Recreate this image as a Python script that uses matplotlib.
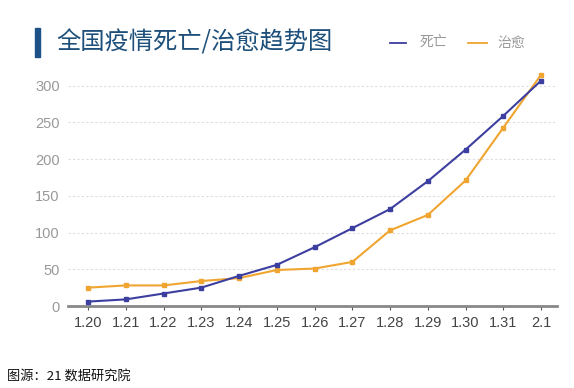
import matplotlib.pyplot as plt
from matplotlib.lines import Line2D

plt.rcParams['font.family'] = ['Liberation Sans', 'Noto Sans CJK SC', 'DejaVu Sans']

dates = ['1.20', '1.21', '1.22', '1.23', '1.24', '1.25', '1.26',
         '1.27', '1.28', '1.29', '1.30', '1.31', '2.1']
deaths = [6, 9, 17, 25, 41, 56, 80, 106, 132, 170, 213, 259, 307]
cured = [25, 28, 28, 34, 38, 49, 51, 60, 103, 124, 171, 243, 315]

blue = '#3d3fa0'
orange = '#f0a530'
W, H = 574, 388

fig = plt.figure(figsize=(W / 100, H / 100), dpi=100)
ax = fig.add_axes([68 / W, 1 - 306 / H, (557 - 68) / W, (306 - 71) / H])

x = list(range(len(dates)))
ax.plot(x, cured, color=orange, lw=1.5, marker='s', ms=2.2, clip_on=False, zorder=3)
ax.plot(x, deaths, color=blue, lw=1.5, marker='s', ms=2.2, clip_on=False, zorder=4)

ax.set_xlim(-0.53, 12.42)
ax.set_ylim(0, 320)
ax.set_yticks([0, 50, 100, 150, 200, 250, 300])
ax.set_xticks(x)
ax.set_xticklabels(dates)
for y in [50, 100, 150, 200, 250, 300]:
    ax.axhline(y, color='#dddddd', lw=0.8, ls=(0, (2, 2)), zorder=1)

for s in ['top', 'right', 'left']:
    ax.spines[s].set_visible(False)
ax.spines['bottom'].set_color('#888888')
ax.spines['bottom'].set_linewidth(2)
ax.tick_params(axis='y', length=0, labelsize=10.5, labelcolor='#999999', pad=6)
ax.tick_params(axis='x', length=3, width=0.8, color='#555555', labelsize=10.5,
               labelcolor='#444444', pad=4)

# title bar and title
fig.patches.append(plt.Rectangle((35 / W, 1 - 57 / H), 4.5 / W, 29 / H,
                                 transform=fig.transFigure, color='#1d5289'))
fig.text(56 / W, 1 - 43 / H, '全国疫情死亡/治愈趋势图', fontsize=17.5,
         color='#1d4f7a', va='center', ha='left', family='Noto Sans CJK SC')

# legend
fig.lines.append(Line2D([390 / W, 406 / W], [1 - 43 / H] * 2, color=blue, lw=1.3,
                        transform=fig.transFigure))
fig.text(420 / W, 1 - 43 / H, '死亡', fontsize=10, color='#999999', va='center',
         family='Noto Sans CJK SC')
fig.lines.append(Line2D([468 / W, 487 / W], [1 - 43 / H] * 2, color=orange, lw=1.3,
                        transform=fig.transFigure))
fig.text(497 / W, 1 - 43 / H, '治愈', fontsize=10, color='#999999', va='center',
         family='Noto Sans CJK SC')

fig.text(7 / W, 1 - 377 / H, '图源：21 数据研究院', fontsize=9.5, color='#111111',
         va='center', ha='left', family='Noto Sans CJK SC')

fig.savefig('out.png', dpi=100)
